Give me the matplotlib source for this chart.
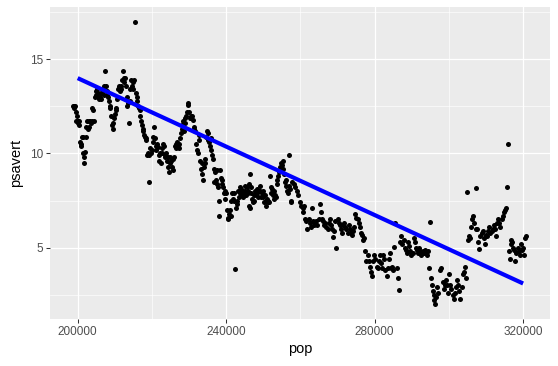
import numpy as np
import matplotlib
matplotlib.use("Agg")
import matplotlib.pyplot as plt

# ---- data (pop, psavert) ----
pop = [
198700,198900,199100,199300,199500,199650,199800,199950,200100,200250,200400,
200600,200800,200950,201100,201300,201500,201650,201800,201950,202150,202350,202550,202750,202950,203150,203350,203550,203750,203950,204150,204350,
204600,204800,205000,205200,205400,205600,205800,206000,206200,206400,206600,206800,207000,207200,207400,207600,207800,208000,208200,208400,208600,
208800,209000,209200,209400,209600,209800,210000,210200,210400,210600,210800,211000,211200,211400,211600,
211800,212000,212200,212400,212600,212800,213000,213200,213400,213600,213800,214000,214200,214400,214600,214800,215000,215200,215500,
215700,215900,216100,216300,216500,216700,216900,217100,217300,217500,217700,217900,218100,218300,218500,218700,218900,219100,219300,
219600,219800,220000,220200,220400,220600,220800,221000,221200,221400,221600,221800,222000,222200,222400,222600,222800,223000,223200,223400,223600,223800,224000,224200,224400,224600,224800,225000,225200,225400,225600,225800,226000,
226200,226400,226600,226800,227000,227200,227400,227600,227800,228000,228200,228400,228600,228800,229000,229200,229400,229600,229800,230000,230200,230400,230600,230800,231000,231200,231400,231600,
232000,232200,232400,232600,232800,233000,233200,233400,233600,233800,234000,234200,234400,234600,234800,235000,235200,235400,235600,235800,236000,236200,236400,236600,236800,237000,237200,237400,237600,237800,238000,238200,238400,238600,238800,239000,239200,239400,239600,239800,240000,
240200,240400,240600,240800,241000,241200,241400,241600,241800,242000,242200,242400,242600,242800,243000,243200,243400,243600,
243800,244000,244200,244400,244600,244800,245000,245200,245400,245600,245800,246000,246100,246200,246400,246500,246600,246800,247000,247200,247400,247600,247800,248000,248200,248400,248600,248800,249000,249200,249400,
249600,249800,250000,250200,250400,250600,250800,251000,251200,251400,251600,251800,252000,252200,252400,252600,252800,253000,253200,253400,253600,253800,254000,254200,254400,254600,254800,255000,255200,255400,255600,255800,256000,256200,256400,256600,256800,257000,257200,257400,257600,257800,258200,258600,259000,259400,259800,260200,260600,
260800,261000,261300,261600,261900,262200,262500,262800,263100,263400,263700,264000,264300,264600,264900,265200,265500,265800,266100,266400,266700,267000,267300,267600,267900,268200,268500,268800,269100,269400,269700,270000,270300,270600,270900,271200,271500,271800,272100,272400,272700,273000,273300,273600,273900,274200,274500,274800,275100,275400,275700,276000,276300,276600,276900,277200,277500,277800,
278100,278400,278700,279000,279300,279600,279900,280200,280500,280800,281100,281400,281700,282000,282300,282600,282900,283200,283500,283800,284100,284400,284700,285000,285300,285600,285900,286200,286500,
286900,287200,287500,287800,288100,288400,288700,289000,289300,289600,289900,290200,290500,290800,291100,291400,291700,292000,292300,292600,292900,293200,293500,293800,294100,294400,294700,295000,
295300,295500,295700,295900,296100,296300,296500,296800,297100,297500,298000,298300,298600,298900,299200,299500,299800,300100,300400,300700,301000,301300,301600,301900,302200,302500,302800,303100,303400,303700,304000,304300,304600,
304800,305100,305400,305700,306000,306300,306600,306900,307200,307350,307600,307900,308200,308500,308800,309100,309400,309700,310000,310300,310600,310900,311200,311500,311800,312100,312400,312700,313000,313300,313600,313900,314200,314500,314800,315100,315400,315700,316000,
316200,316400,316600,316800,317000,317300,317600,317900,318200,318500,318800,319100,319400,319700,320000,320300,320600,320900,
]

psavert = [
12.5,12.5,12.4,12.5,12.2,11.7,12.0,11.7,11.6,11.7,11.5,
10.6,10.5,10.4,10.9,10.9,10.0,9.8,9.5,10.1,10.9,11.4,11.7,11.3,11.7,11.4,11.7,11.6,11.7,12.4,12.3,11.7,
13.0,13.3,13.1,13.4,13.0,13.2,12.9,13.0,12.9,13.2,13.4,13.3,13.1,13.6,14.4,13.6,13.3,13.1,13.0,12.8,12.5,
12.4,12.0,11.5,11.3,11.6,11.9,12.1,12.4,12.3,12.9,13.4,13.6,13.5,13.3,13.4,
13.6,13.9,14.4,14.0,13.8,14.0,13.6,13.0,12.5,12.7,11.6,12.8,13.4,13.9,13.6,13.4,13.8,13.9,17.0,
13.2,12.8,13.0,12.5,12.4,12.3,12.0,11.7,11.5,11.3,11.2,11.0,10.9,10.7,10.8,9.9,10.0,9.9,8.5,
10.3,10.0,10.2,10.6,10.9,11.4,10.8,10.4,10.2,10.5,10.35,9.9,9.6,10.0,9.5,10.3,10.0,10.5,10.4,9.8,9.9,10.0,9.6,9.8,9.3,9.0,9.5,9.8,9.6,9.3,9.1,9.7,9.8,
10.4,10.5,10.3,10.6,10.4,10.3,10.5,10.8,11.1,11.3,11.5,11.7,11.2,11.6,11.9,12.0,12.2,12.6,12.7,12.2,11.9,12.0,11.9,12.0,11.8,11.3,11.4,11.2,
10.5,10.2,10.0,10.7,11.0,9.6,9.2,9.5,8.9,8.6,9.3,9.7,9.5,10.9,11.2,11.1,10.7,10.6,10.4,10.8,10.2,9.9,9.7,9.2,8.5,9.0,8.6,9.1,8.4,8.2,7.5,6.7,9.1,8.7,8.4,8.6,8.2,7.9,7.6,8.0,7.9,
7.0,6.6,6.5,6.8,7.0,6.7,7.5,7.9,7.6,7.9,7.5,3.85,7.1,7.3,7.5,8.0,7.7,8.2,
7.9,8.1,7.8,8.0,7.7,7.9,8.3,8.0,7.8,8.2,7.9,8.0,7.2,8.4,8.9,7.1,8.2,7.9,7.6,7.4,7.8,7.5,8.0,7.8,8.1,7.9,7.7,8.0,8.3,8.0,7.7,
7.9,8.0,7.7,7.4,7.8,7.5,7.2,7.6,7.4,7.5,7.4,8.8,8.2,7.9,8.1,7.8,7.6,8.0,7.8,7.7,8.4,8.6,8.8,9.0,9.1,9.3,9.5,9.4,9.6,9.2,8.9,8.5,8.6,8.3,8.0,7.9,9.9,8.3,8.1,7.4,7.5,8.5,8.4,8.2,8.0,7.8,7.4,7.2,7.1,
6.9,7.2,6.5,6.4,6.0,6.5,6.3,6.1,7.1,6.4,6.2,6.3,6.4,6.2,6.5,7.3,6.9,6.5,6.4,6.2,6.3,6.1,6.0,6.3,6.5,6.2,6.0,5.55,5.9,6.4,5.0,6.5,6.3,6.2,6.0,5.8,6.2,6.3,6.1,6.0,5.8,6.2,6.0,5.8,5.7,5.9,6.1,6.8,6.6,6.5,6.3,6.1,5.8,5.7,5.4,5.5,4.8,4.3,
4.6,4.3,4.0,3.7,3.5,4.3,4.6,4.4,4.0,3.9,4.3,4.6,4.2,3.9,4.6,4.4,3.8,3.5,3.9,4.4,4.7,3.9,4.0,3.8,5.05,6.3,3.9,3.4,2.75,
5.3,5.6,5.2,5.4,5.0,4.9,4.7,5.3,5.1,4.8,4.6,4.7,5.5,5.3,5.0,4.9,4.7,5.0,4.8,4.6,4.8,4.7,4.9,4.7,4.6,4.8,3.9,6.35,
3.4,3.0,2.7,2.5,2.2,2.0,2.4,2.9,2.6,3.8,3.9,3.2,2.8,3.0,3.3,3.0,2.6,3.6,3.0,2.8,2.5,2.3,2.6,2.9,3.3,3.0,2.7,2.3,2.9,3.6,3.7,4.0,3.4,
7.94,5.4,5.6,5.5,6.1,6.5,6.7,6.3,6.0,8.15,6.0,5.3,4.95,5.6,5.8,5.9,5.5,5.2,5.7,5.6,5.9,6.1,5.8,5.9,6.0,6.2,6.0,5.6,6.3,6.5,6.3,6.1,6.5,6.7,6.9,7.0,7.1,8.2,10.5,
4.8,4.4,5.2,5.4,5.3,5.0,4.9,4.3,4.7,5.0,4.8,4.6,5.2,4.9,5.0,4.6,5.5,5.6,
]

# blue straight line (end points)
line_pop = [200000, 320000]
line_psavert = [14.0, 3.1]

x_ticks = [200000, 240000, 280000, 320000]
y_ticks = [5, 10, 15]
x_minor = [220000, 260000, 300000]
y_minor = [2.5, 7.5, 12.5, 17.5]

n = min(len(pop), len(psavert))
pop, psavert = pop[:n], psavert[:n]

plt.rcParams['font.family'] = ['Liberation Sans', 'DejaVu Sans']

fig = plt.figure(figsize=(5.58, 3.66), dpi=100)
ax = fig.add_axes([50/558, 1-319/366, 500/558, 312/366])
ax.set_facecolor('#EBEBEB')
for s in ax.spines.values():
    s.set_visible(False)

ax.set_xlim(192540, 327240)
ax.set_ylim(1.215, 17.776)

for v in x_minor:
    ax.axvline(v, color='white', lw=0.45, zorder=0.5)
for v in y_minor:
    ax.axhline(v, color='white', lw=0.45, zorder=0.5)
for v in x_ticks:
    ax.axvline(v, color='white', lw=0.9, zorder=0.6)
for v in y_ticks:
    ax.axhline(v, color='white', lw=0.9, zorder=0.6)

ax.scatter(pop, psavert, s=13, c='black', linewidths=0, zorder=2)
ax.plot(line_pop, line_psavert, color='#0000FF', lw=3.0, zorder=3, solid_capstyle='butt')

ax.set_xticks(x_ticks)
ax.set_xticklabels([str(v) for v in x_ticks])
ax.set_yticks(y_ticks)
ax.set_yticklabels([str(v) for v in y_ticks])
ax.tick_params(axis='both', length=2.7, width=0.75, color='#333333',
               labelcolor='#4D4D4D', labelsize=8.5, pad=2.2)
ax.set_xlabel('pop', fontsize=10.5, color='black', labelpad=3)
ax.set_ylabel('psavert', fontsize=10.5, color='black', labelpad=5)

fig.savefig('out.png', dpi=100)
